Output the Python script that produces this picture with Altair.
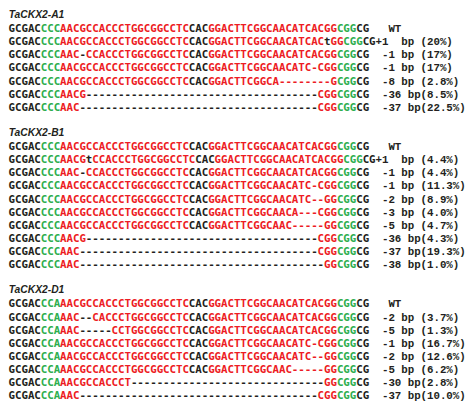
import re
import altair as alt
import pandas as pd

BLACK = "#231F20"
GREEN = "#2EAE4E"
RED = "#ED1C24"

titles = ["TaCKX2-A1", "TaCKX2-B1", "TaCKX2-D1"]

a1_seqs = [
    "{k}GCGAC{g}CCC{r}AACGCCACCCTGGCGGCCTC{k}CAC{r}GGACTTCGGCAACATCACGG{g}CGG{k}CG",
    "{k}GCGAC{g}CCC{r}AACGCCACCCTGGCGGCCTC{k}CAC{r}GGACTTCGGCAACATCAC{k}t{r}GG{g}CGG{k}CG",
    "{k}GCGAC{g}CCC{r}AAC{k}-{r}CCACCCTGGCGGCCTC{k}CAC{r}GGACTTCGGCAACATCACGG{g}CGG{k}CG",
    "{k}GCGAC{g}CCC{r}AACGCCACCCTGGCGGCCTC{k}CAC{r}GGACTTCGGCAACATC-CGG{g}CGG{k}CG",
    "{k}GCGAC{g}CCC{r}AACGCCACCCTGGCGGCCTC{k}CAC{r}GGACTTCGGCA--------G{g}CGG{k}CG",
    "{k}GCGAC{g}CCC{r}AACG{k}" + "-" * 36 + "{r}CGG{g}CGG{k}CG",
    "{k}GCGAC{g}CCC{r}AAC{k}" + "-" * 37 + "{r}CGG{g}CGG{k}CG",
]
a1_labels = ["   WT", "+1  bp (20%)", "  -1 bp (17%)", "  -1 bp (17%)",
             "  -8 bp (2.8%)", "  -36 bp(8.5%)", "  -37 bp(22.5%)"]

b1_seqs = [
    "{k}GCGAC{g}CCC{r}AACGCCACCCTGGCGGCCTC{k}CAC{r}GGACTTCGGCAACATCACGG{g}CGG{k}CG",
    "{k}GCGAC{g}CCC{r}AACG{k}t{r}CCACCCTGGCGGCCTC{k}CAC{r}GGACTTCGGCAACATCACGG{g}CGG{k}CG",
    "{k}GCGAC{g}CCC{r}AAC{k}-{r}CCACCCTGGCGGCCTC{k}CAC{r}GGACTTCGGCAACATCACGG{g}CGG{k}CG",
    "{k}GCGAC{g}CCC{r}AACGCCACCCTGGCGGCCTC{k}CAC{r}GGACTTCGGCAACATC-CGG{g}CGG{k}CG",
    "{k}GCGAC{g}CCC{r}AACGCCACCCTGGCGGCCTC{k}CAC{r}GGACTTCGGCAACATC--GG{g}CGG{k}CG",
    "{k}GCGAC{g}CCC{r}AACGCCACCCTGGCGGCCTC{k}CAC{r}GGACTTCGGCAACA---CGG{g}CGG{k}CG",
    "{k}GCGAC{g}CCC{r}AACGCCACCCTGGCGGCCTC{k}CAC{r}GGACTTCGGCAAC-----GG{g}CGG{k}CG",
    "{k}GCGAC{g}CCC{r}AACG{k}" + "-" * 36 + "{r}CGG{g}CGG{k}CG",
    "{k}GCGAC{g}CCC{r}AAC{k}" + "-" * 37 + "{r}CGG{g}CGG{k}CG",
    "{k}GCGAC{g}CCC{r}AAC{k}" + "-" * 38 + "{r}GG{g}CGG{k}CG",
]
b1_labels = ["   WT", "+1  bp (4.4%)", "  -1 bp (4.4%)", "  -1 bp (11.3%)",
             "  -2 bp (8.9%)", "  -3 bp (4.0%)", "  -5 bp (4.7%)",
             "  -36 bp(4.3%)", "  -37 bp(19.3%)", "  -38 bp(1.0%)"]

d1_seqs = [
    "{k}GCGAC{g}CCA{r}AACGCCACCCTGGCGGCCTC{k}CAC{r}GGACTTCGGCAACATCACGG{g}CGG{k}CG",
    "{k}GCGAC{g}CCA{r}AAC{k}--{r}CACCCTGGCGGCCTC{k}CAC{r}GGACTTCGGCAACATCACGG{g}CGG{k}CG",
    "{k}GCGAC{g}CCA{r}AAC{k}-----{r}CCTGGCGGCCTC{k}CAC{r}GGACTTCGGCAACATCACGG{g}CGG{k}CG",
    "{k}GCGAC{g}CCA{r}AACGCCACCCTGGCGGCCTC{k}CAC{r}GGACTTCGGCAACATC-CGG{g}CGG{k}CG",
    "{k}GCGAC{g}CCA{r}AACGCCACCCTGGCGGCCTC{k}CAC{r}GGACTTCGGCAACATC--GG{g}CGG{k}CG",
    "{k}GCGAC{g}CCA{r}AACGCCACCCTGGCGGCCTC{k}CAC{r}GGACTTCGGCAAC-----GG{g}CGG{k}CG",
    "{k}GCGAC{g}CCA{r}AACGCCACCCT{k}" + "-" * 30 + "{r}GG{g}CGG{k}CG",
    "{k}GCGAC{g}CCA{r}AAC{k}" + "-" * 37 + "{r}CGG{g}CGG{k}CG",
]
d1_labels = ["   WT", "  -2 bp (3.7%)", "  -5 bp (1.3%)", "  -1 bp (16.7%)",
             "  -2 bp (12.6%)", "  -5 bp (6.2%)", "  -30 bp(2.8%)", "  -37 bp(10.0%)"]

blocks = [(titles[0], a1_seqs, a1_labels),
          (titles[1], b1_seqs, b1_labels),
          (titles[2], d1_seqs, d1_labels)]

seq_rows, lab_rows, title_rows = [], [], []
line = 0
for title, seqs, labels in blocks:
    title_rows.append({"x": 0.0, "y": line, "t": title})
    line += 1
    for s, lab in zip(seqs, labels):
        col = 0
        for cls, txt in re.findall(r"\{(\w)\}([^{]*)", s):
            for ch in txt:
                seq_rows.append({"x": col + 0.5, "y": line, "ch": ch, "c": cls})
                col += 1
        for ch in lab:
            if ch != " ":
                lab_rows.append({"x": col + 0.5, "y": line, "ch": ch})
            col += 1
        line += 1
    line += 1

seq_df = pd.DataFrame(seq_rows)
lab_df = pd.DataFrame(lab_rows)
title_df = pd.DataFrame(title_rows)

xs = alt.Scale(domain=[-0.1, 71.05], nice=False, zero=False)
ys = alt.Scale(domain=[-0.35, 29.4], nice=False, zero=False, reverse=True)
cs = alt.Scale(domain=["k", "g", "r"], range=[BLACK, GREEN, RED])

seq_layer = alt.Chart(seq_df).mark_text(
    font="DejaVu Sans Mono", fontWeight="bold", fontSize=11,
    align="center", baseline="middle"
).encode(
    x=alt.X("x:Q", scale=xs, axis=None),
    y=alt.Y("y:Q", scale=ys, axis=None),
    text="ch:N",
    color=alt.Color("c:N", scale=cs, legend=None),
)

lab_layer = alt.Chart(lab_df).mark_text(
    font="Liberation Mono", fontWeight="bold", fontSize=11,
    align="center", baseline="middle", color=BLACK
).encode(
    x=alt.X("x:Q", scale=xs, axis=None),
    y=alt.Y("y:Q", scale=ys, axis=None),
    text="ch:N",
)

title_layer = alt.Chart(title_df).mark_text(
    font="Liberation Sans", fontWeight="bold", fontStyle="italic", fontSize=10.5,
    align="left", baseline="middle", color=BLACK, dy=-1
).encode(
    x=alt.X("x:Q", scale=xs, axis=None),
    y=alt.Y("y:Q", scale=ys, axis=None),
    text="t:N",
)

chart = alt.layer(seq_layer, lab_layer, title_layer).properties(
    width=466, height=397, padding=0, autosize="none", background="white"
).configure_view(stroke=None)

chart.save("out.html", embed_options={"renderer": "svg", "actions": False})
